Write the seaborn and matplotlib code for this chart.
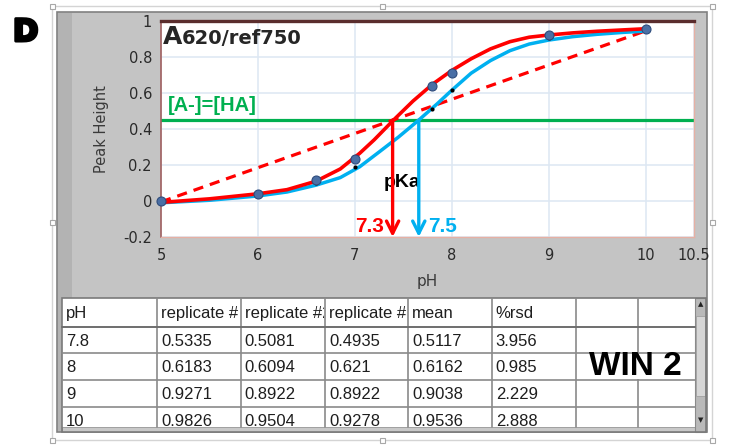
import seaborn as sns
import matplotlib.pyplot as plt
from matplotlib.patches import Rectangle
from matplotlib import patheffects as pe

# ---- datos ----
ph_puntos = [5, 6, 6.6, 7, 7.8, 8, 9, 10]
altura_puntos = [0.0, 0.04, 0.115, 0.235, 0.64, 0.71, 0.925, 0.957]

ph_win2 = [5, 6, 6.6, 7, 7.8, 8, 9, 10]
altura_win2 = [0.0, 0.03, 0.1, 0.19, 0.5117, 0.6162, 0.9038, 0.9536]

ph_ajuste = [5.0, 5.5, 6.0, 6.3, 6.6, 6.85, 7.05, 7.2, 7.4, 7.6, 7.8,
             8.0, 8.2, 8.4, 8.6, 8.8, 9.0, 9.25, 9.5, 9.75, 10.0]
ajuste_rojo = [-0.008, 0.012, 0.04, 0.063, 0.11, 0.178, 0.265, 0.34, 0.45, 0.555, 0.648,
               0.725, 0.79, 0.845, 0.885, 0.91, 0.922, 0.934, 0.943, 0.95, 0.957]

ph_ajuste_azul = [5.0, 5.5, 6.0, 6.3, 6.6, 6.85, 7.05, 7.25, 7.45, 7.65, 7.85,
                  8.0, 8.2, 8.4, 8.6, 8.8, 9.0, 9.25, 9.5, 9.75, 10.0]
ajuste_azul = [-0.01, 0.004, 0.028, 0.05, 0.088, 0.13, 0.19, 0.272, 0.355, 0.445, 0.54,
               0.615, 0.71, 0.78, 0.835, 0.872, 0.894, 0.913, 0.926, 0.936, 0.944]

ph_recta = [5, 10]
altura_recta = [-0.005, 0.945]

mitad = 0.45
pka_rojo_x = 7.39
pka_azul_x = 7.66
pka_textos = ["7.3", "7.5"]

x_ticks = [5, 6, 7, 8, 9, 10, 10.5]
x_etiquetas = ["5", "6", "7", "8", "9", "10", "10.5"]
y_ticks = [-0.2, 0, 0.2, 0.4, 0.6, 0.8, 1]
y_etiquetas = ["-0.2", "0", "0.2", "0.4", "0.6", "0.8", "1"]

# tabla WIN 2
encabezados = ["pH", "replicate #1", "replicate #2", "replicate #3", "mean", "%rsd", "", ""]
tabla_ph = ["7.8", "8", "9", "10"]
replica1 = ["0.5335", "0.6183", "0.9271", "0.9826"]
replica2 = ["0.5081", "0.6094", "0.8922", "0.9504"]
replica3 = ["0.4935", "0.621", "0.8922", "0.9278"]
media = ["0.5117", "0.6162", "0.9038", "0.9536"]
rsd = ["3.956", "0.985", "2.229", "2.888"]

ROJO = "#ff0000"
AZUL = "#00b0f0"
VERDE = "#00b050"

sns.set_style("white")
plt.rcParams["font.family"] = ["DejaVu Sans"]

W, H = 734, 446
fig = plt.figure(figsize=(W / 100, H / 100), dpi=100)

# ---- fondo en coordenadas de pixel ----
bg = fig.add_axes([0, 0, 1, 1])
bg.set_xlim(0, W)
bg.set_ylim(H, 0)
bg.axis("off")

bg.add_patch(Rectangle((52, 6), 660, 434, fc="none", ec="#d4d4d4", lw=1))
for hx, hy in [(52, 6), (382, 6), (712, 6), (52, 222), (712, 222), (52, 440), (382, 440), (712, 440)]:
    bg.add_patch(Rectangle((hx - 2.5, hy - 2.5), 5, 5, fc="white", ec="#a8a8a8", lw=0.8, zorder=3))

bg.add_patch(Rectangle((57, 12), 650, 420, fc="#c4c4c4", ec="#808080", lw=1.2))
bg.add_patch(Rectangle((58, 13), 14, 418, fc="#b3b3b3", ec="none"))

bg.text(13, 41, "D", fontsize=22, fontweight="bold", color="black",
        path_effects=[pe.withStroke(linewidth=2.2, foreground="black")])

# ---- tabla ----
col_x = [62, 157.3, 240.7, 325, 408.3, 491.7, 576, 638.3, 695]
fila_y = [297.7, 326.7, 353.3, 380, 406.7, 433.3]
tabla_abajo = 427

bg.add_patch(Rectangle((col_x[0], fila_y[0]), col_x[-1] - col_x[0], tabla_abajo - fila_y[0],
                       fc="white", ec="none"))
for cx in col_x[1:-1]:
    bg.plot([cx, cx], [fila_y[0], tabla_abajo], color="#8a8a8a", lw=1.2)
for i, fy in enumerate(fila_y[1:-1]):
    bg.plot([col_x[0], col_x[-1]], [fy, fy], color="#6e6e6e" if i == 0 else "#8a8a8a",
            lw=1.4 if i == 0 else 1.2)

columnas = [tabla_ph, replica1, replica2, replica3, media, rsd]
filas = [encabezados] + [[c[r] for c in columnas] + ["", ""] for r in range(len(tabla_ph))]
for r, fila in enumerate(filas):
    y0, y1 = fila_y[r], min(fila_y[r + 1], tabla_abajo)
    for c, texto in enumerate(fila):
        if not texto:
            continue
        x0, x1 = col_x[c], col_x[c + 1]
        t = bg.text(x0 + 4, (fila_y[r] + fila_y[r + 1]) / 2 + 1, texto, fontsize=12,
                    family="Liberation Sans", color="#1e1e1e", va="center", ha="left")
        t.set_clip_path(Rectangle((x0, y0), x1 - x0 - 1.5, y1 - y0, transform=bg.transData))
        t.set_clip_on(True)

bg.add_patch(Rectangle((584, 354.5), 102, 24.5, fc="white", ec="none", zorder=4))
bg.text(635, 366.5, "WIN 2", fontsize=24, fontweight="bold", family="Liberation Sans",
        ha="center", va="center", color="black", zorder=5)

# barras de desplazamiento
bg.add_patch(Rectangle((col_x[0], tabla_abajo), col_x[-1] - col_x[0], 5, fc="#c8c8c8", ec="#9a9a9a", lw=0.6))
bg.add_patch(Rectangle((col_x[-1], fila_y[0]), 11, 134, fc="#b9b9b9", ec="#8a8a8a", lw=0.8))
bg.add_patch(Rectangle((col_x[-1] + 1, 316), 9, 80, fc="#d6d6d6", ec="#a0a0a0", lw=0.6))
bg.text(col_x[-1] + 5.5, 304, "▲", fontsize=5, ha="center", va="center", color="#222")
bg.text(col_x[-1] + 5.5, 420, "▼", fontsize=5, ha="center", va="center", color="#222")
bg.add_patch(Rectangle((col_x[0], fila_y[0]), col_x[-1] + 11 - col_x[0], tabla_abajo + 5 - fila_y[0],
                       fc="none", ec="#7a7a7a", lw=1.2))

# ---- grafico ----
ax = fig.add_axes([161 / W, (H - 237) / H, 533 / W, 216 / H])
ax.set_facecolor("white")
ax.set_xlim(5, 10.5)
ax.set_ylim(-0.2, 1)
ax.set_xticks(x_ticks)
ax.set_xticklabels(x_etiquetas)
ax.set_yticks(y_ticks)
ax.set_yticklabels(y_etiquetas)
ax.grid(True, color="#dde7f3", lw=1.1)
ax.set_axisbelow(True)
ax.tick_params(axis="both", direction="out", length=5, width=1, color="#333333",
               labelsize=10.5, labelcolor="#2a2a2a", pad=1.5)
ax.tick_params(axis="x", pad=3)
ax.set_xlabel("pH", fontsize=11, color="#3a3a3a", labelpad=8)
ax.set_ylabel("Peak Height", fontsize=10.5, color="#3a3a3a", labelpad=10)

ax.spines["top"].set_color("#5a2d2d")
ax.spines["top"].set_linewidth(2.4)
ax.spines["left"].set_color("#a06060")
ax.spines["left"].set_linewidth(1.2)
ax.spines["right"].set_color("#e6b0a4")
ax.spines["bottom"].set_color("#e6b0a4")
for lado in ["right", "bottom"]:
    ax.spines[lado].set_linewidth(1)

ax.axhline(mitad, color=VERDE, lw=2.3, zorder=2)
sns.lineplot(x=ph_recta, y=altura_recta, ax=ax, color=ROJO, lw=2.3,
             linestyle=(0, (3.2, 2.2)), legend=False, zorder=3)
sns.lineplot(x=ph_ajuste_azul, y=ajuste_azul, ax=ax, color=AZUL, lw=2.5,
             estimator=None, sort=False, legend=False, zorder=4)
sns.lineplot(x=ph_ajuste, y=ajuste_rojo, ax=ax, color=ROJO, lw=2.6,
             estimator=None, sort=False, legend=False, zorder=5)
sns.scatterplot(x=ph_win2, y=altura_win2, ax=ax, color="black", s=9,
                linewidth=0, legend=False, zorder=6)
sns.scatterplot(x=ph_puntos, y=altura_puntos, ax=ax, color="#4a6fa5", s=42,
                edgecolor="#2e4c7c", linewidth=0.8, legend=False, zorder=7, clip_on=False)

for x_pka, color in [(pka_rojo_x, ROJO), (pka_azul_x, AZUL)]:
    ax.annotate("", xy=(x_pka, -0.2), xytext=(x_pka, mitad),
                arrowprops=dict(arrowstyle="->", color=color, lw=2.4,
                                mutation_scale=22, shrinkA=0, shrinkB=0),
                zorder=6, annotation_clip=False)

ax.text(pka_rojo_x - 0.09, -0.14, pka_textos[0], color=ROJO, fontsize=15,
        fontweight="bold", family="Liberation Sans", ha="right", va="center")
ax.text(pka_azul_x + 0.1, -0.14, pka_textos[1], color=AZUL, fontsize=15,
        fontweight="bold", family="Liberation Sans", ha="left", va="center")
ax.text(7.49, 0.105, "pKa", color="black", fontsize=14, fontweight="bold",
        family="Liberation Sans", ha="center", va="center")
ax.text(5.07, 0.528, "[A-]=[HA]", color=VERDE, fontsize=14.5, fontweight="bold",
        family="Liberation Sans", ha="left", va="center")

titulo_a = ax.text(0.003, 0.8935, "A", transform=ax.transAxes, fontsize=18,
                   fontweight="bold", va="baseline", ha="left")
ax.annotate("620/ref750", xy=(1.0, 0.8935), xycoords=(titulo_a, "axes fraction"),
            fontsize=14, fontweight="bold", va="baseline", ha="left")

fig.savefig("out.png", dpi=100)
